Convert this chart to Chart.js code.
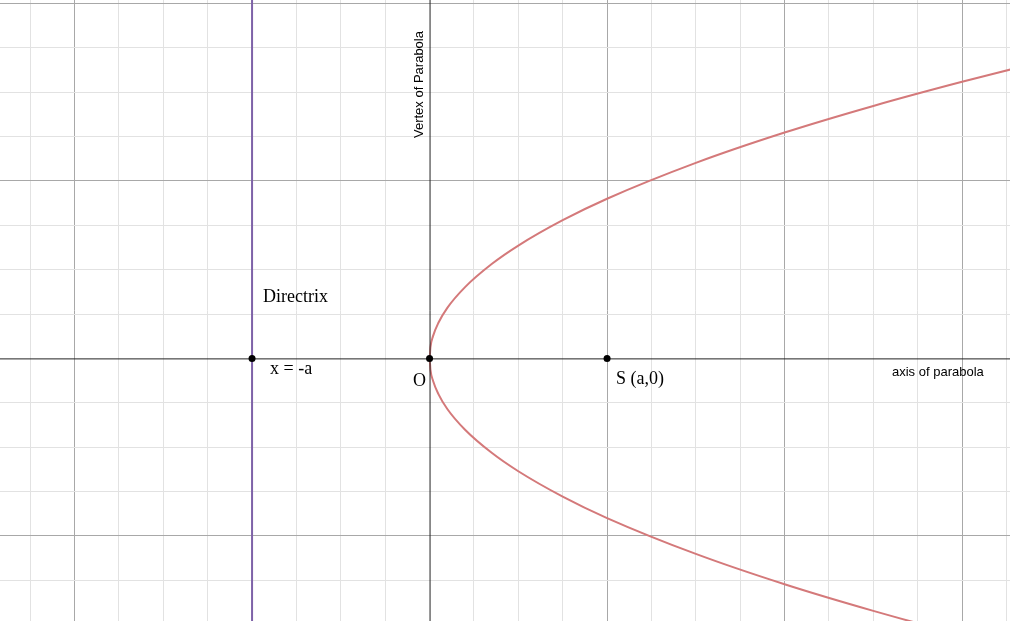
<!DOCTYPE html>
<html>
<head>
<meta charset="utf-8">
<script src="https://cdn.jsdelivr.net/npm/chart.js@4"></script>
<style>
  html, body { margin: 0; padding: 0; background: #fff; }
  #wrap { width: 1010px; height: 621px; }
</style>
</head>
<body>
<div id="wrap"><canvas id="c" width="1010" height="621"></canvas></div>
<script>
// points (upper branch), lower branch is the mirror
const curveX = [0, 0.005, 0.02, 0.05, 0.1, 0.2, 0.35, 0.5, 0.75, 1, 1.5, 2, 2.5, 3, 3.3]
const curveY = [0, 0.064, 0.127, 0.201, 0.285, 0.402, 0.532, 0.636, 0.779, 0.9, 1.102, 1.273, 1.423, 1.559, 1.635]
const directrixX = -1
const markedPoints = [[-1, 0], [0, 0], [1, 0]]
const xRange = [-2.42, 3.27]
const yRange = [-1.48, 2.02]

const upper = curveX.map((x, i) => ({x: x, y: curveY[i]}))
const lower = curveX.map((x, i) => ({x: x, y: -curveY[i]}))
const parabola = lower.slice().reverse().concat(upper.slice(1))

const gridColor = ctx => {
    const v = ctx.tick.value
    if (Math.abs(v) < 1e-6) return 'rgba(0,0,0,0)'
    return Math.abs(v - Math.round(v)) < 1e-6 ? '#a8a8a8' : '#e2e2e2'
}

// grid lines every quarter unit, aligned on zero
const quarterTicks = scale => {
    const t = []
    for (let v = Math.ceil(scale.min * 4) / 4; v <= scale.max + 1e-9; v += 0.25) t.push({value: v})
    scale.ticks = t
}

const labels = {
    id: 'labels',
    afterDatasetsDraw(chart) {
        const c = chart.ctx, xs = chart.scales.x, ys = chart.scales.y
        const px = v => xs.getPixelForValue(v), py = v => ys.getPixelForValue(v)
        c.save()
        c.strokeStyle = '#222'; c.lineWidth = 1
        c.beginPath()
        c.moveTo(chart.chartArea.left, py(0) + 0.5); c.lineTo(chart.chartArea.right, py(0) + 0.5)
        c.moveTo(px(0) + 0.5, chart.chartArea.top); c.lineTo(px(0) + 0.5, chart.chartArea.bottom)
        c.stroke()
        c.fillStyle = '#000'
        markedPoints.forEach(p => { c.beginPath(); c.arc(px(p[0]), py(p[1]), 3.5, 0, 2 * Math.PI); c.fill() })
        c.font = '18px "DejaVu Serif", "Liberation Serif", serif'
        c.font = '18px "Liberation Serif", serif'
        c.textBaseline = 'alphabetic'
        c.fillText('Directrix', 263, 302)
        c.fillText('x = -a', 270, 374)
        c.fillText('O', 413, 386)
        c.fillText('S (a,0)', 616, 384)
        c.font = '13px "Liberation Sans", Arial, sans-serif'
        c.fillText('axis of parabola', 892, 376)
        c.translate(423, 138); c.rotate(-Math.PI / 2)
        c.fillText('Vertex of Parabola', 0, 0)
        c.restore()
    }
}

new Chart(document.getElementById('c'), {
    type: 'scatter',
    data: {
        datasets: [
            {data: parabola, showLine: true, borderColor: '#d4797a', borderWidth: 2,
             pointRadius: 0, tension: 0.4, cubicInterpolationMode: 'monotone'},
            {data: [{x: directrixX, y: yRange[1] + 0.1}, {x: directrixX, y: yRange[0] - 0.1}],
             showLine: true, borderColor: '#7e62a8', borderWidth: 2, pointRadius: 0}
        ]
    },
    options: {
        responsive: false, animation: false,
        layout: {padding: 0},
        plugins: {legend: {display: false}, tooltip: {enabled: false}},
        scales: {
            x: {type: 'linear', min: xRange[0], max: xRange[1], afterBuildTicks: quarterTicks,
                ticks: {display: false}, border: {display: false},
                grid: {color: gridColor, drawTicks: false}},
            y: {type: 'linear', min: yRange[0], max: yRange[1], afterBuildTicks: quarterTicks,
                ticks: {display: false}, border: {display: false},
                grid: {color: gridColor, drawTicks: false}}
        }
    },
    plugins: [labels]
})
</script>
</body>
</html>
